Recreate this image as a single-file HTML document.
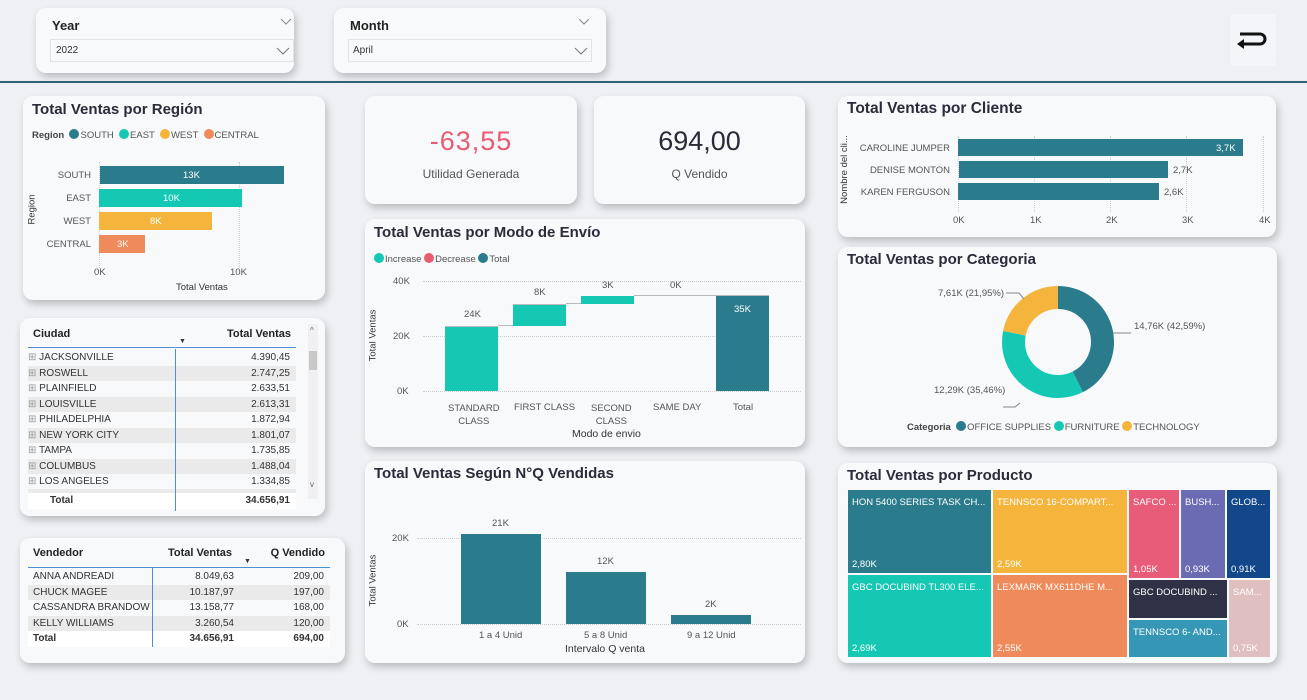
<!DOCTYPE html><html><head><meta charset="utf-8"><style>
*{margin:0;padding:0;box-sizing:border-box}
body{width:1307px;height:700px;background:#eef0f4;font-family:"Liberation Sans","DejaVu Sans",sans-serif;position:relative;overflow:hidden;color:#333}
.c{position:absolute;background:#f8f9fb;border-radius:10px;box-shadow:2px 4px 8px rgba(0,0,0,.22)}
.a{position:absolute;white-space:nowrap}
.t{font-size:15px;font-weight:bold;color:#2b2b3a}
.s{font-size:9.5px;color:#555}
.dot{display:inline-block;width:10px;height:10px;border-radius:50%;vertical-align:-1px;margin-right:1px}
.b{position:absolute}
.tr{position:absolute;font-size:10px;color:#333;height:15.5px;line-height:15.5px}
.tm{position:absolute;color:#fff;font-size:9.5px;overflow:hidden;border:1px solid #f8f9fb}
.tm span{position:absolute;left:4px;top:7px}
.tm i{position:absolute;left:4px;bottom:3px;font-style:normal}
</style></head><body>
<!-- slicers -->
<div class="c" style="left:36px;top:8px;width:258px;height:65px">
<div class="a" style="left:16px;top:10px;font-size:13px;font-weight:bold;color:#222">Year</div>
<div class="a" style="left:14px;top:31px;width:244px;height:23px;border:1px solid #e4e4e8"></div>
<div class="a" style="left:20px;top:37px;font-size:10px;color:#333">2022</div>
<svg class="a" style="left:244px;top:10px" width="12" height="8"><path d="M1 1l5 5 5-5" stroke="#888" fill="none"/></svg>
<svg class="a" style="left:240px;top:39px" width="14" height="9"><path d="M1 1l6 6 6-6" stroke="#777" fill="none"/></svg>
</div>
<div class="c" style="left:334px;top:8px;width:272px;height:65px">
<div class="a" style="left:16px;top:10px;font-size:13px;font-weight:bold;color:#222">Month</div>
<div class="a" style="left:14px;top:31px;width:244px;height:23px;border:1px solid #e4e4e8"></div>
<div class="a" style="left:19px;top:37px;font-size:10px;color:#333">April</div>
<svg class="a" style="left:244px;top:10px" width="12" height="8"><path d="M1 1l5 5 5-5" stroke="#888" fill="none"/></svg>
<svg class="a" style="left:240px;top:39px" width="14" height="9"><path d="M1 1l6 6 6-6" stroke="#777" fill="none"/></svg>
</div>
<div class="a" style="left:0;top:81px;width:1307px;height:2px;background:#2d6470"></div>
<div class="a" style="left:1230px;top:14px;width:46px;height:52px;background:#f4f5f8;border-radius:3px"></div>
<svg class="a" style="left:1236px;top:30px" width="34" height="20"><path d="M4 4h20a5 5 0 0 1 0 10H4" stroke="#111" stroke-width="3" fill="none"/><path d="M1 14l7-5v10z" fill="#111"/></svg>

<!-- Region -->
<div class="c" style="left:23px;top:96px;width:302px;height:204px">
<div class="a t" style="left:9px;top:5px">Total Ventas por Región</div>
<div class="a s" style="left:9px;top:33px"><b style="color:#444">Region</b>&nbsp; <span class="dot" style="background:#2a7b8b"></span>SOUTH &nbsp;<span class="dot" style="background:#15c8b4"></span>EAST &nbsp;<span class="dot" style="background:#f5b43c"></span>WEST &nbsp;<span class="dot" style="background:#ef8a5a"></span>CENTRAL</div>
<div class="a" style="left:76px;top:66px;height:106px;border-left:1px dotted #ccc"></div>
<div class="a" style="left:216px;top:66px;height:106px;border-left:1px dotted #ccc"></div>
<div class="b" style="left:77px;top:70px;width:184px;height:18px;background:#2a7b8b"></div>
<div class="b" style="left:76px;top:93px;width:143px;height:18px;background:#15c8b4"></div>
<div class="b" style="left:76px;top:116px;width:113px;height:18px;background:#f5b43c"></div>
<div class="b" style="left:76px;top:139px;width:46px;height:18px;background:#ef8a5a"></div>
<div class="a s" style="left:160px;top:74px;color:#fff">13K</div>
<div class="a s" style="left:140px;top:97px;color:#fff">10K</div>
<div class="a s" style="left:127px;top:120px;color:#fff">8K</div>
<div class="a s" style="left:94px;top:143px;color:#fff">3K</div>
<div class="a s" style="right:234px;top:74px">SOUTH</div>
<div class="a s" style="right:234px;top:97px">EAST</div>
<div class="a s" style="right:234px;top:120px">WEST</div>
<div class="a s" style="right:234px;top:143px">CENTRAL</div>
<div class="a s" style="left:-6px;top:108px;transform:rotate(-90deg);color:#333">Region</div>
<div class="a s" style="left:71px;top:171px">0K</div>
<div class="a s" style="left:207px;top:171px">10K</div>
<div class="a s" style="left:153px;top:186px;color:#333">Total Ventas</div>
</div>

<!-- Ciudad -->
<div class="c" style="left:20px;top:318px;width:305px;height:198px">
<div class="a" style="left:13px;top:10px;font-size:11px;font-weight:bold;color:#222">Ciudad</div>
<div class="a" style="right:34px;top:10px;font-size:11px;font-weight:bold;color:#222">Total Ventas</div>
<div class="a" style="left:159px;top:20px;font-size:7px;color:#333">▼</div>
<div class="a" style="left:8px;top:29px;width:268px;height:1px;background:#4a90d9"></div>
<div class="a" style="left:288px;top:6px;width:10px;height:175px;background:#f0f0f2"></div>
<div class="a" style="left:289px;top:33px;width:8px;height:19px;background:#c8c8c8"></div>
<div class="a" style="left:290px;top:8px;font-size:8px;color:#666">^</div>
<div class="a" style="left:290px;top:162px;font-size:8px;color:#666">v</div>
</div>
<div class="tr" style="left:28px;top:350px;width:268px"><span style="color:#999">⊞</span> JACKSONVILLE<span style="position:absolute;right:6px">4.390,45</span></div>
<div class="tr" style="left:28px;top:365.5px;width:268px;background:#eaeaea"><span style="color:#999">⊞</span> ROSWELL<span style="position:absolute;right:6px">2.747,25</span></div>
<div class="tr" style="left:28px;top:381px;width:268px"><span style="color:#999">⊞</span> PLAINFIELD<span style="position:absolute;right:6px">2.633,51</span></div>
<div class="tr" style="left:28px;top:396.5px;width:268px;background:#eaeaea"><span style="color:#999">⊞</span> LOUISVILLE<span style="position:absolute;right:6px">2.613,31</span></div>
<div class="tr" style="left:28px;top:412px;width:268px"><span style="color:#999">⊞</span> PHILADELPHIA<span style="position:absolute;right:6px">1.872,94</span></div>
<div class="tr" style="left:28px;top:427.5px;width:268px;background:#eaeaea"><span style="color:#999">⊞</span> NEW YORK CITY<span style="position:absolute;right:6px">1.801,07</span></div>
<div class="tr" style="left:28px;top:443px;width:268px"><span style="color:#999">⊞</span> TAMPA<span style="position:absolute;right:6px">1.735,85</span></div>
<div class="tr" style="left:28px;top:458.5px;width:268px;background:#eaeaea"><span style="color:#999">⊞</span> COLUMBUS<span style="position:absolute;right:6px">1.488,04</span></div>
<div class="tr" style="left:28px;top:474px;width:268px"><span style="color:#999">⊞</span> LOS ANGELES<span style="position:absolute;right:6px">1.334,85</span></div>
<div class="a" style="left:28px;top:489px;width:268px;height:4px;background:#eaeaea"></div>
<div class="tr" style="left:28px;top:493px;width:268px;font-weight:bold;background:#fff"><span style="padding-left:22px">Total</span><span style="position:absolute;right:6px">34.656,91</span></div>
<div class="a" style="left:175px;top:349px;width:1px;height:162px;background:#4a90d9"></div>

<!-- Vendedor -->
<div class="c" style="left:20px;top:538px;width:325px;height:125px">
<div class="a" style="left:13px;top:9px;font-size:11px;font-weight:bold;color:#222">Vendedor</div>
<div class="a" style="left:148px;top:9px;font-size:11px;font-weight:bold;color:#222">Total Ventas</div>
<div class="a" style="right:20px;top:9px;font-size:11px;font-weight:bold;color:#222">Q Vendido</div>
<div class="a" style="left:224px;top:20px;font-size:7px">▼</div>
<div class="a" style="left:8px;top:29px;width:302px;height:1px;background:#4a90d9"></div>
</div>
<div class="tr" style="left:28px;top:569px;width:302px;padding-left:5px">ANNA ANDREADI<span style="position:absolute;right:96px">8.049,63</span><span style="position:absolute;right:6px">209,00</span></div>
<div class="tr" style="left:28px;top:584.5px;width:302px;padding-left:5px;background:#eaeaea">CHUCK MAGEE<span style="position:absolute;right:96px">10.187,97</span><span style="position:absolute;right:6px">197,00</span></div>
<div class="tr" style="left:28px;top:600px;width:302px;padding-left:5px">CASSANDRA BRANDOW<span style="position:absolute;right:96px">13.158,77</span><span style="position:absolute;right:6px">168,00</span></div>
<div class="tr" style="left:28px;top:615.5px;width:302px;padding-left:5px;background:#eaeaea">KELLY WILLIAMS<span style="position:absolute;right:96px">3.260,54</span><span style="position:absolute;right:6px">120,00</span></div>
<div class="tr" style="left:28px;top:631px;width:302px;padding-left:5px;font-weight:bold;background:#fff">Total<span style="position:absolute;right:96px">34.656,91</span><span style="position:absolute;right:6px">694,00</span></div>
<div class="a" style="left:152px;top:568px;width:1px;height:79px;background:#4a90d9"></div>

<!-- KPIs -->
<div class="c" style="left:365px;top:96px;width:212px;height:108px">
<div class="a" style="left:0;width:212px;text-align:center;top:30px;font-size:27px;color:#e85c72;letter-spacing:1px">-63,55</div>
<div class="a" style="left:0;width:212px;text-align:center;top:71px;font-size:12px;color:#555">Utilidad Generada</div>
</div>
<div class="c" style="left:594px;top:96px;width:211px;height:108px">
<div class="a" style="left:0;width:211px;text-align:center;top:30px;font-size:27px;color:#2a2a38">694,00</div>
<div class="a" style="left:0;width:211px;text-align:center;top:71px;font-size:12px;color:#555">Q Vendido</div>
</div>

<!-- Waterfall -->
<div class="c" style="left:365px;top:219px;width:440px;height:228px">
<div class="a t" style="left:9px;top:5px">Total Ventas por Modo de Envío</div>
<div class="a s" style="left:9px;top:34px"><span class="dot" style="background:#15c8b4"></span>Increase <span class="dot" style="background:#e85c72"></span>Decrease <span class="dot" style="background:#2a7b8b"></span>Total</div>
<div class="a" style="left:58px;top:62px;width:378px;border-top:1px dotted #ccc"></div>
<div class="a" style="left:58px;top:117px;width:378px;border-top:1px dotted #ccc"></div>
<div class="a" style="left:58px;top:172px;width:378px;border-top:1px dotted #ccc"></div>
<div class="a s" style="left:28px;top:57px">40K</div>
<div class="a s" style="left:28px;top:112px">20K</div>
<div class="a s" style="left:32px;top:167px">0K</div>
<div class="a s" style="left:-18px;top:111px;transform:rotate(-90deg);color:#333">Total Ventas</div>
<div class="b" style="left:80px;top:107px;width:53px;height:65px;background:#15c8b4;border-top:1px solid #bbb"></div>
<div class="b" style="left:148px;top:85px;width:53px;height:22px;background:#15c8b4;border-top:1px solid #bbb"></div>
<div class="b" style="left:216px;top:77px;width:53px;height:8px;background:#15c8b4"></div>
<div class="b" style="left:133px;top:106px;width:15px;height:1px;background:#bbb"></div>
<div class="b" style="left:201px;top:84px;width:15px;height:1px;background:#bbb"></div>
<div class="b" style="left:269px;top:76px;width:82px;height:1px;background:#bbb"></div>
<div class="b" style="left:351px;top:76px;width:53px;height:96px;background:#2a7b8b;border-top:1px solid #bbb"></div>
<div class="a s" style="left:99px;top:90px">24K</div>
<div class="a s" style="left:169px;top:68px">8K</div>
<div class="a s" style="left:237px;top:61px">3K</div>
<div class="a s" style="left:305px;top:61px">0K</div>
<div class="a s" style="left:369px;top:85px;color:#fff">35K</div>
<div class="a s" style="left:83px;top:183px;text-align:center;line-height:13px">STANDARD<br>CLASS</div>
<div class="a s" style="left:149px;top:183px">FIRST CLASS</div>
<div class="a s" style="left:226px;top:183px;text-align:center;line-height:13px">SECOND<br>CLASS</div>
<div class="a s" style="left:288px;top:183px">SAME DAY</div>
<div class="a s" style="left:368px;top:183px">Total</div>
<div class="a s" style="left:207px;top:209px;font-size:10.5px;color:#333">Modo de envio</div>
</div>

<!-- Q vendidas -->
<div class="c" style="left:365px;top:461px;width:440px;height:202px">
<div class="a t" style="left:9px;top:4px">Total Ventas Según N°Q Vendidas</div>
<div class="a" style="left:52px;top:77px;width:384px;border-top:1px dotted #ccc"></div>
<div class="a" style="left:52px;top:163px;width:384px;border-top:1px dotted #ccc"></div>
<div class="a s" style="left:27px;top:72px">20K</div>
<div class="a s" style="left:32px;top:158px">0K</div>
<div class="a s" style="left:-18px;top:114px;transform:rotate(-90deg);color:#333">Total Ventas</div>
<div class="b" style="left:96px;top:73px;width:80px;height:90px;background:#2a7b8b"></div>
<div class="b" style="left:201px;top:111px;width:80px;height:52px;background:#2a7b8b"></div>
<div class="b" style="left:306px;top:154px;width:80px;height:9px;background:#2a7b8b"></div>
<div class="a s" style="left:127px;top:57px">21K</div>
<div class="a s" style="left:232px;top:95px">12K</div>
<div class="a s" style="left:340px;top:138px">2K</div>
<div class="a s" style="left:114px;top:169px">1 a 4 Unid</div>
<div class="a s" style="left:219px;top:169px">5 a 8 Unid</div>
<div class="a s" style="left:322px;top:169px">9 a 12 Unid</div>
<div class="a s" style="left:200px;top:182px;font-size:10.5px;color:#333">Intervalo Q venta</div>
</div>

<!-- Cliente -->
<div class="c" style="left:838px;top:96px;width:438px;height:141px">
<div class="a t" style="left:9px;top:4px;font-size:15.5px">Total Ventas por Cliente</div>
<div class="a" style="left:120px;top:40px;height:76px;border-left:1px dotted #ccc"></div>
<div class="a" style="left:196px;top:40px;height:76px;border-left:1px dotted #ccc"></div>
<div class="a" style="left:272px;top:40px;height:76px;border-left:1px dotted #ccc"></div>
<div class="a" style="left:348px;top:40px;height:76px;border-left:1px dotted #ccc"></div>
<div class="a" style="left:425px;top:40px;height:76px;border-left:1px dotted #ccc"></div>
<div class="b" style="left:120px;top:43px;width:285px;height:17px;background:#2a7b8b"></div>
<div class="b" style="left:121px;top:65px;width:209px;height:17px;background:#2a7b8b"></div>
<div class="b" style="left:120px;top:87px;width:201px;height:17px;background:#2a7b8b"></div>
<div class="a s" style="left:378px;top:47px;color:#fff">3,7K</div>
<div class="a s" style="left:335px;top:69px">2,7K</div>
<div class="a s" style="left:326px;top:91px">2,6K</div>
<div class="a s" style="right:326px;top:47px">CAROLINE JUMPER</div>
<div class="a s" style="right:326px;top:69px">DENISE MONTON</div>
<div class="a s" style="right:326px;top:91px">KAREN FERGUSON</div>
<div class="a s" style="left:-28px;top:68px;transform:rotate(-90deg);color:#333">Nombre del cli...</div>
<div class="a s" style="left:115px;top:119px">0K</div>
<div class="a s" style="left:192px;top:119px">1K</div>
<div class="a s" style="left:268px;top:119px">2K</div>
<div class="a s" style="left:344px;top:119px">3K</div>
<div class="a s" style="left:421px;top:119px">4K</div>
</div>

<!-- Categoria -->
<div class="c" style="left:838px;top:247px;width:439px;height:200px">
<div class="a t" style="left:9px;top:4px">Total Ventas por Categoria</div>
<svg class="a" style="left:0;top:0" width="439" height="200">
<g transform="rotate(-90 220 95)">
<circle cx="220" cy="95" r="44.5" fill="none" stroke="#2a7b8b" stroke-width="23" stroke-dasharray="119.1 300"/>
<circle cx="220" cy="95" r="44.5" fill="none" stroke="#15c8b4" stroke-width="23" stroke-dasharray="0 119.1 99.1 300"/>
<circle cx="220" cy="95" r="44.5" fill="none" stroke="#f5b43c" stroke-width="23" stroke-dasharray="0 218.2 61.4 300"/>
</g>
<path d="M168 46h13l5 6M275 86h18M165 160h12l5-4" stroke="#888" fill="none"/>
</svg>
<div class="a s" style="left:100px;top:41px">7,61K (21,95%)</div>
<div class="a s" style="left:296px;top:74px">14,76K (42,59%)</div>
<div class="a s" style="left:96px;top:138px">12,29K (35,46%)</div>
<div class="a s" style="left:69px;top:174px"><b style="color:#444">Categoria</b>&nbsp; <span class="dot" style="background:#2a7b8b"></span>OFFICE SUPPLIES <span class="dot" style="background:#15c8b4"></span>FURNITURE <span class="dot" style="background:#f5b43c"></span>TECHNOLOGY</div>
</div>

<!-- Producto -->
<div class="c" style="left:838px;top:463px;width:439px;height:200px">
<div class="a t" style="left:9px;top:4px">Total Ventas por Producto</div>
</div>
<div class="tm" style="left:847px;top:489px;width:145px;height:85px;background:#2a7b8b"><span>HON 5400 SERIES TASK CH...</span><i>2,80K</i></div>
<div class="tm" style="left:992px;top:489px;width:136px;height:85px;background:#f5b43c"><span>TENNSCO 16-COMPART...</span><i>2,59K</i></div>
<div class="tm" style="left:847px;top:574px;width:145px;height:84px;background:#15c8b4"><span>GBC DOCUBIND TL300 ELE...</span><i>2,69K</i></div>
<div class="tm" style="left:992px;top:574px;width:136px;height:84px;background:#ef8a5a"><span>LEXMARK MX611DHE M...</span><i>2,55K</i></div>
<div class="tm" style="left:1128px;top:489px;width:52px;height:90px;background:#e85c7a"><span>SAFCO ...</span><i>1,05K</i></div>
<div class="tm" style="left:1180px;top:489px;width:46px;height:90px;background:#6b6bb3"><span>BUSH...</span><i>0,93K</i></div>
<div class="tm" style="left:1226px;top:489px;width:45px;height:90px;background:#12478a"><span>GLOB...</span><i>0,91K</i></div>
<div class="tm" style="left:1128px;top:579px;width:100px;height:40px;background:#2f3246"><span>GBC DOCUBIND ...</span></div>
<div class="tm" style="left:1128px;top:619px;width:100px;height:39px;background:#3597b5"><span>TENNSCO 6- AND...</span></div>
<div class="tm" style="left:1228px;top:579px;width:43px;height:79px;background:#e0bfc0"><span>SAM...</span><i>0,75K</i></div>
</body></html>
